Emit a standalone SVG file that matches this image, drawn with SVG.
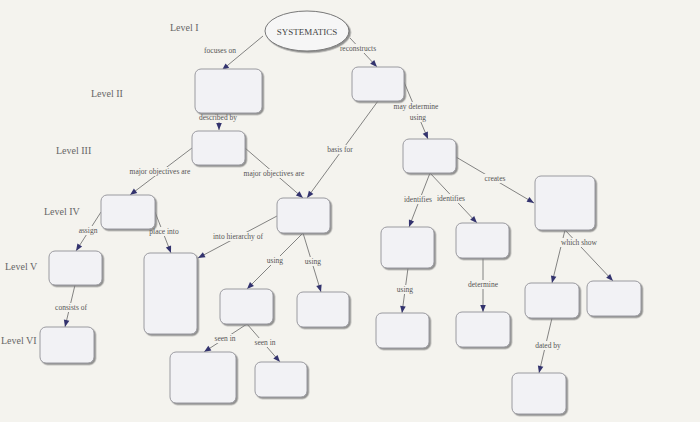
<svg xmlns="http://www.w3.org/2000/svg" width="700" height="422" viewBox="0 0 700 422">
<defs>
<marker id="ah" viewBox="0 0 10 10" refX="10" refY="5" markerWidth="9" markerHeight="7" markerUnits="userSpaceOnUse" orient="auto"><path d="M0,1 L10,5 L0,9 Z" fill="#33336e"/></marker>
<filter id="sh" x="-10%" y="-10%" width="130%" height="130%"><feDropShadow dx="1.5" dy="1.5" stdDeviation="0.6" flood-color="#777" flood-opacity="0.8"/></filter>
</defs>
<style>
.bx{fill:#f2f2f5;stroke:#9a9aa0;stroke-width:1;filter:url(#sh)}
.ar{stroke:#666;stroke-width:0.8;fill:none;marker-end:url(#ah)}
.lb{font-family:"Liberation Serif",serif;font-size:7.5px;fill:#555;text-anchor:middle}
.lv{font-family:"Liberation Serif",serif;font-size:10px;fill:#666}
.bg{fill:#f4f3ee}
</style>
<rect width="700" height="422" fill="#f4f3ee"/>
<g id="levels">
<text class="lv" x="170" y="31">Level I</text>
<text class="lv" x="91" y="97">Level II</text>
<text class="lv" x="56" y="154">Level III</text>
<text class="lv" x="44" y="215">Level IV</text>
<text class="lv" x="5" y="270">Level V</text>
<text class="lv" x="1" y="344">Level VI</text>
</g>
<g id="connectors">
<line class="ar" x1="263" y1="36" x2="222" y2="70"/>
<line class="ar" x1="350" y1="38" x2="377" y2="67"/>
<line class="ar" x1="219" y1="120" x2="219" y2="130"/>
<line class="ar" x1="192" y1="148" x2="130" y2="195"/>
<line class="ar" x1="245" y1="148" x2="303" y2="198"/>
<line class="ar" x1="378" y1="101" x2="307" y2="198"/>
<line class="ar" x1="404" y1="82" x2="428" y2="139"/>
<line class="ar" x1="456" y1="157" x2="534" y2="203"/>
<line class="ar" x1="430" y1="173" x2="409" y2="227"/>
<line class="ar" x1="430" y1="173" x2="477" y2="223"/>
<line class="ar" x1="565" y1="230" x2="552" y2="283"/>
<line class="ar" x1="565" y1="230" x2="613" y2="281"/>
<line class="ar" x1="101" y1="212" x2="76" y2="251"/>
<line class="ar" x1="155" y1="212" x2="171" y2="253"/>
<line class="ar" x1="277" y1="216" x2="198" y2="258"/>
<line class="ar" x1="303" y1="233" x2="247" y2="289"/>
<line class="ar" x1="303" y1="233" x2="321" y2="292"/>
<line class="ar" x1="75" y1="285" x2="65" y2="327"/>
<line class="ar" x1="247" y1="324" x2="204" y2="352"/>
<line class="ar" x1="247" y1="324" x2="280" y2="362"/>
<line class="ar" x1="408" y1="268" x2="402" y2="313"/>
<line class="ar" x1="483" y1="258" x2="483" y2="312"/>
<line class="ar" x1="552" y1="318" x2="539" y2="373"/>
<rect class="bg" x="200" y="46" width="40" height="9"/><text class="lb" x="220" y="53">focuses on</text>
<rect class="bg" x="340" y="44" width="37" height="9"/><text class="lb" x="358" y="51">reconstructs</text>
<rect class="bg" x="196" y="113" width="44" height="9"/><text class="lb" x="218" y="120">described by</text>
<rect class="bg" x="128" y="167" width="64" height="9"/><text class="lb" x="160" y="174">major objectives are</text>
<rect class="bg" x="242" y="169" width="64" height="9"/><text class="lb" x="274" y="176">major objectives are</text>
<rect class="bg" x="327" y="145" width="26" height="9"/><text class="lb" x="340" y="152">basis for</text>
<rect class="bg" x="394" y="102" width="44" height="20"/><text class="lb" x="416" y="109">may determine</text><text class="lb" x="418" y="120">using</text>
<rect class="bg" x="483" y="174" width="24" height="9"/><text class="lb" x="495" y="181">creates</text>
<rect class="bg" x="403" y="195" width="30" height="9"/><text class="lb" x="418" y="202">identifies</text>
<rect class="bg" x="437" y="194" width="28" height="9"/><text class="lb" x="451" y="201">identifies</text>
<rect class="bg" x="560" y="238" width="38" height="9"/><text class="lb" x="579" y="245">which show</text>
<rect class="bg" x="77" y="226" width="22" height="9"/><text class="lb" x="88" y="233">assign</text>
<rect class="bg" x="148" y="227" width="32" height="9"/><text class="lb" x="164" y="234">place into</text>
<rect class="bg" x="212" y="232" width="52" height="9"/><text class="lb" x="238" y="239">into hierarchy of</text>
<rect class="bg" x="265" y="256" width="20" height="9"/><text class="lb" x="275" y="263">using</text>
<rect class="bg" x="303" y="257" width="20" height="9"/><text class="lb" x="313" y="264">using</text>
<rect class="bg" x="53" y="303" width="36" height="9"/><text class="lb" x="71" y="310">consists of</text>
<rect class="bg" x="213" y="334" width="24" height="9"/><text class="lb" x="225" y="341">seen in</text>
<rect class="bg" x="253" y="338" width="24" height="9"/><text class="lb" x="265" y="345">seen in</text>
<rect class="bg" x="395" y="285" width="20" height="9"/><text class="lb" x="405" y="292">using</text>
<rect class="bg" x="467" y="280" width="33" height="9"/><text class="lb" x="483" y="287">determine</text>
<rect class="bg" x="533" y="341" width="30" height="9"/><text class="lb" x="548" y="348">dated by</text>
</g>
<g id="systematics"><ellipse cx="307" cy="31" rx="42" ry="20" fill="#f6f6f6" stroke="#777" filter="url(#sh)"/><text x="307" y="35" font-family="Liberation Serif,serif" font-size="9" fill="#444" text-anchor="middle">SYSTEMATICS</text></g>
<g id="n1"><rect class="bx" x="195" y="69" width="67" height="44" rx="6"/></g>
<g id="n2"><rect class="bx" x="352" y="67" width="52" height="34" rx="6"/></g>
<g id="n3"><rect class="bx" x="192" y="131" width="53" height="34" rx="6"/></g>
<g id="n4"><rect class="bx" x="403" y="139" width="53" height="34" rx="6"/></g>
<g id="n5"><rect class="bx" x="535" y="176" width="60" height="54" rx="6"/></g>
<g id="n6"><rect class="bx" x="101" y="195" width="54" height="34" rx="6"/></g>
<g id="n7"><rect class="bx" x="277" y="198" width="53" height="35" rx="6"/></g>
<g id="n8"><rect class="bx" x="49" y="251" width="53" height="34" rx="6"/></g>
<g id="n9"><rect class="bx" x="144" y="253" width="53" height="81" rx="6"/></g>
<g id="n10"><rect class="bx" x="381" y="227" width="53" height="41" rx="6"/></g>
<g id="n11"><rect class="bx" x="456" y="223" width="53" height="35" rx="6"/></g>
<g id="n12"><rect class="bx" x="525" y="283" width="54" height="35" rx="6"/></g>
<g id="n13"><rect class="bx" x="587" y="281" width="54" height="35" rx="6"/></g>
<g id="n14"><rect class="bx" x="220" y="289" width="53" height="35" rx="6"/></g>
<g id="n15"><rect class="bx" x="297" y="292" width="52" height="35" rx="6"/></g>
<g id="n16"><rect class="bx" x="40" y="327" width="54" height="36" rx="6"/></g>
<g id="n17"><rect class="bx" x="170" y="352" width="66" height="51" rx="6"/></g>
<g id="n18"><rect class="bx" x="255" y="362" width="52" height="35" rx="6"/></g>
<g id="n19"><rect class="bx" x="376" y="313" width="53" height="35" rx="6"/></g>
<g id="n20"><rect class="bx" x="456" y="312" width="54" height="35" rx="6"/></g>
<g id="n21"><rect class="bx" x="512" y="373" width="54" height="41" rx="6"/></g>
</svg>
